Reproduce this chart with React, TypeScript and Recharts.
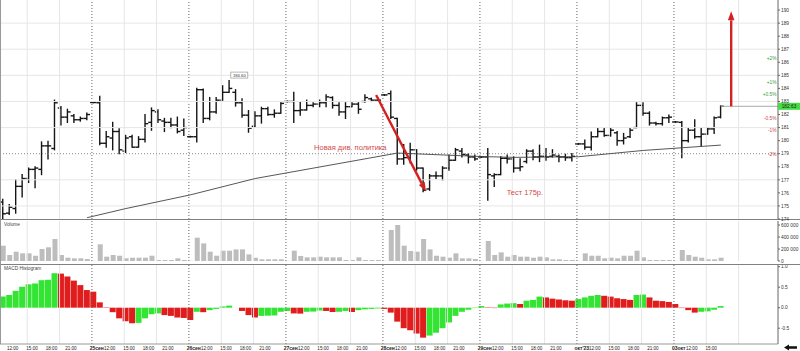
import React from "react";
import {
  Bar,
  Cell,
  ComposedChart,
  Line,
  ReferenceDot,
  ReferenceLine,
  XAxis,
  YAxis,
} from "recharts";

// hourly bars, one slot per hour; the short dash at each day start is the opening auction
const opens = [
  175.3, 174.45, 174.8, 176.5, 177.1, 177.8, 177.8, 179.6, 179.4, 182.5, 181.8, 181.9, 181.6, 181.7,
  182.92,
  182.9, 179.8, 180.2, 180.7, 179.2, 180.3, 179.5, 180.1, 181.4, 182.2, 181.5, 181.4, 181.2, 180.8,
  180.3,
  180.3, 183.9, 181.7, 182.2, 183.1, 183.7, 183.7, 182.9, 181.95, 181.1, 181.9, 182.45, 182.0, 182.1,
  183.0,
  183.0, 182.3, 182.35, 182.7, 182.8, 182.9, 183.3, 182.7, 182.2, 182.6, 182.8, 183.0, 183.2, 183.1,
  183.5,
  183.6, 181.7, 178.6, 178.7, 179.3, 177.9, 176.3, 177.3, 177.3, 177.9, 178.5, 179.2, 178.9, 178.75,
  178.75,
  178.75, 177.3, 177.4, 178.65, 178.6, 177.9, 178.4, 179.2, 178.75, 178.8, 178.8, 178.8, 178.75, 178.7,
  179.75,
  179.75, 179.5, 180.3, 180.7, 180.4, 180.6, 180.0, 180.3, 181.0, 182.7, 182.1, 181.35, 181.3, 181.75,
  181.43,
  181.4, 180.0, 180.8, 180.3, 180.5, 180.9, 181.8,
];
const highs = [
  175.5, 175.1, 177.0, 177.4, 177.9, 178.0, 179.9, 179.95, 183.1, 182.6, 182.4, 182.0, 181.8, 182.1,
  182.95,
  183.4, 180.7, 181.4, 180.9, 180.4, 180.4, 180.3, 182.0, 182.5, 182.35, 181.7, 181.7, 181.8, 181.65,
  180.33,
  184.0, 183.95, 183.3, 183.3, 184.2, 184.6, 183.9, 183.2, 182.3, 182.2, 182.55, 182.55, 182.35, 182.9,
  183.02,
  183.7, 182.95, 183.1, 182.9, 183.1, 183.5, 183.35, 182.9, 182.9, 182.9, 182.9, 183.5, 183.25, 183.25,
  183.52,
  183.8, 181.7, 179.7, 179.8, 179.3, 177.9, 177.4, 177.6, 178.0, 178.9, 179.4, 179.4, 179.0, 178.9,
  178.78,
  179.4, 177.45, 178.75, 178.9, 178.75, 178.6, 179.3, 179.3, 179.65, 179.4, 179.3, 178.9, 178.95, 179.0,
  179.78,
  180.05, 180.65, 180.95, 180.95, 180.95, 180.7, 180.55, 180.95, 182.9, 182.9, 182.2, 181.4, 181.8, 181.95,
  181.46,
  181.45, 180.95, 181.6, 180.95, 181.0, 181.8, 182.65,
];
const lows = [
  174.05, 174.35, 174.45, 175.7, 176.8, 176.4, 177.4, 178.6, 179.3, 181.2, 181.4, 181.4, 181.5, 181.6,
  182.9,
  179.7, 179.5, 179.3, 179.0, 179.1, 179.5, 179.5, 179.9, 180.8, 181.4, 180.7, 181.0, 180.6, 180.4,
  180.28,
  179.9, 181.4, 181.6, 182.1, 183.1, 183.7, 182.65, 181.8, 180.65, 181.05, 181.35, 181.95, 181.8, 182.1,
  182.97,
  181.4, 181.96, 182.35, 182.6, 182.6, 182.6, 182.5, 181.95, 181.7, 182.6, 182.1, 182.95, 183.0, 183.0,
  183.47,
  181.7, 178.2, 178.2, 178.3, 177.75, 176.1, 176.2, 177.1, 177.0, 177.75, 178.5, 178.75, 178.3, 178.5,
  178.72,
  175.45, 176.5, 177.4, 178.3, 177.6, 177.7, 178.3, 178.55, 178.4, 178.5, 178.75, 178.4, 178.5, 178.45,
  179.72,
  179.35, 179.3, 180.3, 180.35, 180.35, 179.65, 179.75, 180.25, 181.0, 181.96, 181.2, 181.2, 181.2, 181.4,
  181.4,
  178.7, 179.9, 180.2, 179.6, 180.5, 180.55, 181.75,
];
const closes = [
  174.4, 174.9, 176.5, 177.1, 177.8, 177.9, 179.6, 179.6, 182.9, 181.8, 182.2, 181.6, 181.7, 182.0,
  182.92,
  179.8, 180.3, 180.7, 179.3, 180.2, 179.5, 180.1, 181.3, 182.3, 181.6, 181.4, 181.2, 180.7, 181.0,
  180.3,
  183.9, 181.7, 182.2, 183.1, 183.7, 184.0, 182.9, 181.95, 180.95, 181.9, 182.45, 182.0, 182.1, 182.85,
  183.0,
  182.3, 182.35, 182.7, 182.8, 182.9, 183.35, 182.7, 182.2, 182.6, 182.8, 182.4, 183.3, 183.1, 183.1,
  183.5,
  181.8, 178.6, 178.7, 179.3, 177.9, 176.2, 177.3, 177.3, 177.9, 178.5, 179.3, 178.95, 178.75, 178.6,
  178.75,
  177.4, 177.4, 178.65, 178.6, 177.9, 178.0, 179.2, 178.75, 178.8, 178.75, 178.9, 178.75, 178.7, 178.8,
  179.75,
  179.5, 180.3, 180.7, 180.4, 180.8, 180.0, 180.2, 180.8, 182.7, 182.1, 181.35, 181.3, 181.75, 181.8,
  181.43,
  180.0, 180.8, 180.3, 180.5, 180.9, 181.75, 182.63,
];
// thousands of shares
const volumes = [
  255, 100, 155, 128, 128, 88, 200, 228, 367, 100, 55, 45, 45, 33,
  3,
  278, 72, 100, 88, 45, 55, 55, 55, 88, 17, 17, 17, 45, 17,
  3,
  389, 294, 155, 88, 172, 172, 194, 194, 110, 55, 28, 28, 28, 28,
  3,
  172, 83, 61, 61, 72, 61, 61, 61, 17, 17, 61, 17, 17, 17,
  3,
  517, 600, 255, 167, 155, 367, 194, 88, 72, 55, 128, 45, 45, 33,
  3,
  333, 100, 144, 72, 100, 72, 72, 55, 72, 61, 28, 28, 17, 17,
  3,
  128, 88, 88, 45, 55, 45, 88, 88, 172, 61, 17, 17, 17, 17,
  3,
  183, 100, 72, 55, 28, 28, 55,
];
const macdHist = [
  0.27, 0.31, 0.41, 0.51, 0.57, 0.59, 0.67, 0.68, 0.84, 0.83, 0.76, 0.66, 0.55, 0.43,
  0.39,
  0.13, 0.01, -0.11, -0.26, -0.33, -0.38, -0.37, -0.26, -0.16, -0.14, -0.18, -0.2, -0.24, -0.25,
  -0.3,
  -0.1, -0.11, -0.06, -0.03, 0.03, 0.05, 0.0, -0.08, -0.18, -0.24, -0.2, -0.195, -0.19, -0.1,
  -0.08,
  -0.14, -0.145, -0.1, -0.095, -0.07, -0.08, -0.105, -0.1, -0.08, -0.105, -0.06, -0.04, -0.03, -0.02,
  -0.03,
  -0.12, -0.34, -0.5, -0.55, -0.63, -0.73, -0.68, -0.61, -0.5, -0.36, -0.2, -0.1, -0.05, -0.01,
  0.04,
  0.01, -0.01, 0.08, 0.1, 0.11, 0.09, 0.17, 0.19, 0.27, 0.25, 0.22, 0.2, 0.18, 0.17,
  0.21,
  0.25, 0.29, 0.31, 0.29, 0.27, 0.23, 0.21, 0.19, 0.31, 0.32, 0.25, 0.17, 0.16, 0.14,
  0.09,
  -0.01, -0.06, -0.12, -0.1, -0.09, -0.05, 0.04,
];
const maSlots = [13, 19, 29, 39, 61, 74, 79, 89, 99, 111];
const maValues = [174.1, 174.8, 175.85, 177.1, 179.05, 178.78, 178.72, 178.77, 179.25, 179.66];

const dayOpens = [0, 15, 30, 45, 60, 75, 90, 105];
const dayNames = ["22сен", "25сен", "26сен", "27сен", "28сен", "29сен", "окт'23", "03окт"];
const hourNames = ["12:00", "15:00", "18:00", "21:00"];
const hourSteps = [2, 5, 8, 11];

const priceTicks = [174, 175, 176, 177, 178, 179, 180, 181, 182, 183, 184, 185, 186, 187, 188, 189, 190];
const priceGrid = [175, 177, 179, 181, 183, 185, 187, 189];
const volumeTicks = [0, 200000, 400000, 600000];
const macdTicks = [-0.5, 0, 0.5, 1];
const levelPcts = [2, 1, 0.5, -0.5, -1, -2];

const noteDrop = { x: 53.7, y: 179.3, text: "Новая див. политика" };
const noteTest = { x: 80.7, y: 175.8, text: "Тест 175р." };
const arrowDown = [{ x: 57.7, y: 183.5 }, { x: 65.4, y: 176.1 }];
const arrowUp = [{ x: 112.6, y: 182.63 }, { x: 112.6, y: 189.9 }];

const X_DOMAIN: [number, number] = [-0.46, 119.84];
const FONT = "'Liberation Sans', Arial, sans-serif";
const GREEN = "#33e433";
const RED = "#e01c1c";
const ARROW_RED = "#d42222";

const rows = opens.map((open, i) => ({
  i,
  open,
  high: highs[i],
  low: lows[i],
  close: closes[i],
  range: [lows[i], highs[i]],
  volume: volumes[i] * 1000,
  macd: macdHist[i],
  ma: maSlots.includes(i) ? maValues[maSlots.indexOf(i)] : null,
}));

const lastSlot = closes.length - 1;
const lastClose = closes[lastSlot];
const peakIdx = highs.indexOf(Math.max(...highs));

const dayLines = dayOpens.slice(1).map((d) => d - 1.25);
const gridLines: number[] = [];
for (let k = 1; k * 5 - 1.25 < X_DOMAIN[1]; k++) {
  if (k % 3 !== 0) gridLines.push(k * 5 - 1.25);
}

const timeTicks: { v: number; label: string; day: boolean }[] = [];
dayOpens.forEach((d, di) => {
  if (di > 0) timeTicks.push({ v: d - 0.5, label: dayNames[di], day: true });
  hourSteps.forEach((h, hi) => {
    const v = d + h - 0.5;
    if (v < lastSlot) timeTicks.push({ v, label: hourNames[hi], day: false });
  });
});

const OhlcShape = (props: any) => {
  const { x, y, width, height, payload } = props;
  const cx = x + width / 2;
  const top = Math.min(y, y + height);
  const h = Math.abs(height);
  const span = payload.high - payload.low;
  const py = (v: number) => (span > 0 ? top + ((payload.high - v) / span) * h : top);
  const yo = py(payload.open);
  const yc = py(payload.close);
  return (
    <g stroke="#151515" strokeWidth={1.4}>
      <line x1={cx} x2={cx} y1={top - 0.6} y2={top + h + 0.6} />
      <line x1={cx - 3.2} x2={cx} y1={yo} y2={yo} />
      <line x1={cx} x2={cx + 3.2} y1={yc} y2={yc} />
    </g>
  );
};

const ArrowShape = (props: any) => {
  const { x1, y1, x2, y2 } = props;
  const a = Math.atan2(y2 - y1, x2 - x1);
  const len = 9;
  const half = 3.3;
  const bx = x2 - len * Math.cos(a);
  const by = y2 - len * Math.sin(a);
  const pts = [
    `${x2},${y2}`,
    `${bx + half * Math.sin(a)},${by - half * Math.cos(a)}`,
    `${bx - half * Math.sin(a)},${by + half * Math.cos(a)}`,
  ].join(" ");
  return (
    <g>
      <line x1={x1} y1={y1} x2={bx} y2={by} stroke={ARROW_RED} strokeWidth={2.4} />
      <polygon points={pts} fill={ARROW_RED} />
    </g>
  );
};

const TimeTick = (props: any) => {
  const { x, y, payload } = props;
  const t = timeTicks.find((tt) => Math.abs(tt.v - payload.value) < 0.01);
  if (!t) return null;
  return (
    <text
      x={x}
      y={y + 4}
      textAnchor="middle"
      fontSize={t.day ? 5 : 4.6}
      fontWeight={t.day ? 700 : 400}
      fill="#222"
      fontFamily={FONT}
    >
      {t.label}
    </text>
  );
};

const verticalLines = (prefix: string) => [
  ...gridLines.map((v) => (
    <ReferenceLine key={`${prefix}g${v}`} x={v} stroke="#e6e6e6" strokeWidth={1} />
  )),
  ...dayLines.map((v) => (
    <ReferenceLine key={`${prefix}d${v}`} x={v} stroke="#666" strokeDasharray="1 2" strokeWidth={1} />
  )),
];

const axisTick = { fontSize: 4.8, fill: "#333", fontFamily: FONT };

// non-breaking space keeps "600 000" on one line
const fmtVolume = (v: number) => (v === 0 ? "0" : `${v / 1000}\u00a0000`);

export default function App() {
  return (
    <div
      style={{
        position: "absolute",
        left: 0,
        top: 0,
        width: 800,
        height: 351,
        background: "#fff",
        overflow: "hidden",
        fontFamily: FONT,
      }}
    >
      <div style={{ position: "absolute", left: 0, top: 264 }}>
        <ComposedChart width={800} height={87} data={rows} margin={{ top: 1, right: 0, bottom: 0, left: 0 }}>
          <XAxis
            dataKey="i"
            type="number"
            domain={X_DOMAIN}
            allowDataOverflow
            ticks={timeTicks.map((t) => t.v)}
            interval={0}
            height={7}
            tickSize={0}
            tickMargin={2}
            tick={TimeTick}
            axisLine={{ stroke: "#999" }}
          />
          <YAxis
            orientation="right"
            width={22}
            domain={[-0.885, 1.04]}
            allowDataOverflow
            ticks={macdTicks}
            interval={0}
            tickFormatter={(v: number) => v.toFixed(1)}
            tick={axisTick}
            tickSize={2}
            tickMargin={1}
            axisLine={{ stroke: "#666" }}
            tickLine={{ stroke: "#666" }}
          />
          {verticalLines("h")}
          <Bar dataKey="macd" barSize={6} isAnimationActive={false}>
            {rows.map((r, i) => (
              <Cell key={i} fill={i === 0 || r.macd >= rows[i - 1].macd ? GREEN : RED} />
            ))}
          </Bar>
        </ComposedChart>
      </div>

      <div style={{ position: "absolute", left: 0, top: 220 }}>
        <ComposedChart width={800} height={44} data={rows} margin={{ top: 1, right: 0, bottom: 3, left: 0 }}>
          <XAxis dataKey="i" type="number" domain={X_DOMAIN} allowDataOverflow hide />
          <YAxis
            orientation="right"
            width={22}
            domain={[0, 666667]}
            allowDataOverflow
            ticks={volumeTicks}
            interval={0}
            tickFormatter={fmtVolume}
            tick={axisTick}
            tickSize={2}
            tickMargin={1}
            axisLine={{ stroke: "#666" }}
            tickLine={{ stroke: "#666" }}
          />
          {verticalLines("v")}
          <Bar dataKey="volume" barSize={5} fill="#bdbdbd" isAnimationActive={false} />
        </ComposedChart>
      </div>

      <div style={{ position: "absolute", left: 0, top: 219, width: 800, height: 1, background: "#808080" }} />
      <div style={{ position: "absolute", left: 0, top: 264, width: 800, height: 1, background: "#808080" }} />

      <div style={{ position: "absolute", left: 0, top: 0 }}>
        <ComposedChart width={800} height={225} data={rows} margin={{ top: 0, right: 0, bottom: 6, left: 0 }}>
          <XAxis dataKey="i" type="number" domain={X_DOMAIN} allowDataOverflow hide />
          <YAxis
            orientation="right"
            width={22}
            domain={[174, 190.77]}
            allowDataOverflow
            ticks={priceTicks}
            interval={0}
            tick={axisTick}
            tickSize={2}
            tickMargin={1}
            axisLine={{ stroke: "#666" }}
            tickLine={{ stroke: "#666" }}
          />
          {verticalLines("m")}
          {priceGrid.map((p) => (
            <ReferenceLine
              key={`h${p}`}
              y={p}
              stroke={p === 179 ? "#888" : "#e6e6e6"}
              strokeDasharray={p === 179 ? "1 2" : undefined}
            />
          ))}
          <ReferenceLine
            segment={[
              { x: lastSlot, y: lastClose },
              { x: X_DOMAIN[1], y: lastClose },
            ]}
            stroke="#aaa"
          />
          <Bar dataKey="range" barSize={6} shape={OhlcShape} isAnimationActive={false} />
          <Line
            dataKey="ma"
            stroke="#444"
            strokeWidth={0.9}
            dot={false}
            connectNulls
            isAnimationActive={false}
          />
          <ReferenceLine segment={arrowDown} shape={ArrowShape} ifOverflow="visible" />
          <ReferenceLine segment={arrowUp} shape={ArrowShape} ifOverflow="visible" />
          <ReferenceDot
            x={peakIdx}
            y={highs[peakIdx]}
            r={0}
            shape={(s: any) => (
              <g>
                <rect x={s.cx + 1.5} y={s.cy - 8.5} width={17} height={6} fill="#fff" stroke="#888" strokeWidth={0.6} />
                <text x={s.cx + 10} y={s.cy - 4} fontSize={4.2} textAnchor="middle" fill="#333" fontFamily={FONT}>
                  {highs[peakIdx].toFixed(2)}
                </text>
              </g>
            )}
          />
          {[noteDrop, noteTest].map((n) => (
            <ReferenceDot
              key={n.text}
              x={n.x}
              y={n.y}
              r={0}
              shape={(s: any) => (
                <text x={s.cx} y={s.cy} textAnchor="middle" fontSize={7.5} fill="#d24b4b" fontFamily={FONT}>
                  {n.text}
                </text>
              )}
            />
          ))}
          {levelPcts.map((p) => (
            <ReferenceDot
              key={`l${p}`}
              x={X_DOMAIN[1]}
              y={lastClose * (1 + p / 100)}
              r={0}
              ifOverflow="visible"
              shape={(s: any) => (
                <text
                  x={s.cx - 1.5}
                  y={s.cy + 1.7}
                  textAnchor="end"
                  fontSize={4.8}
                  fill={p > 0 ? "#3c9c3c" : "#c84a4a"}
                  fontFamily={FONT}
                >
                  {(p > 0 ? "+" : "") + p + "%"}
                </text>
              )}
            />
          ))}
          <ReferenceDot
            x={X_DOMAIN[1]}
            y={lastClose}
            r={0}
            ifOverflow="visible"
            shape={(s: any) => (
              <g>
                <rect x={s.cx} y={s.cy - 3.5} width={22} height={7} fill="#44dd44" />
                <text x={s.cx + 11} y={s.cy + 1.8} textAnchor="middle" fontSize={4.8} fill="#222" fontFamily={FONT}>
                  {lastClose.toFixed(2)}
                </text>
              </g>
            )}
          />
        </ComposedChart>
      </div>

      <div style={{ position: "absolute", left: 0, top: 0, width: 1, height: 344, background: "#999" }} />
      <div style={{ position: "absolute", left: 4, top: 222, fontSize: 4.8, color: "#444" }}>Volume</div>
      <div style={{ position: "absolute", left: 4, top: 266, fontSize: 4.8, color: "#444" }}>MACD Histogram</div>
      <svg style={{ position: "absolute", left: 783, top: 344 }} width={16} height={7}>
        <polygon points="1,3.5 6,0.5 6,2.3 14,2.3 14,4.7 6,4.7 6,6.5" fill="#111" />
      </svg>
    </div>
  );
}
